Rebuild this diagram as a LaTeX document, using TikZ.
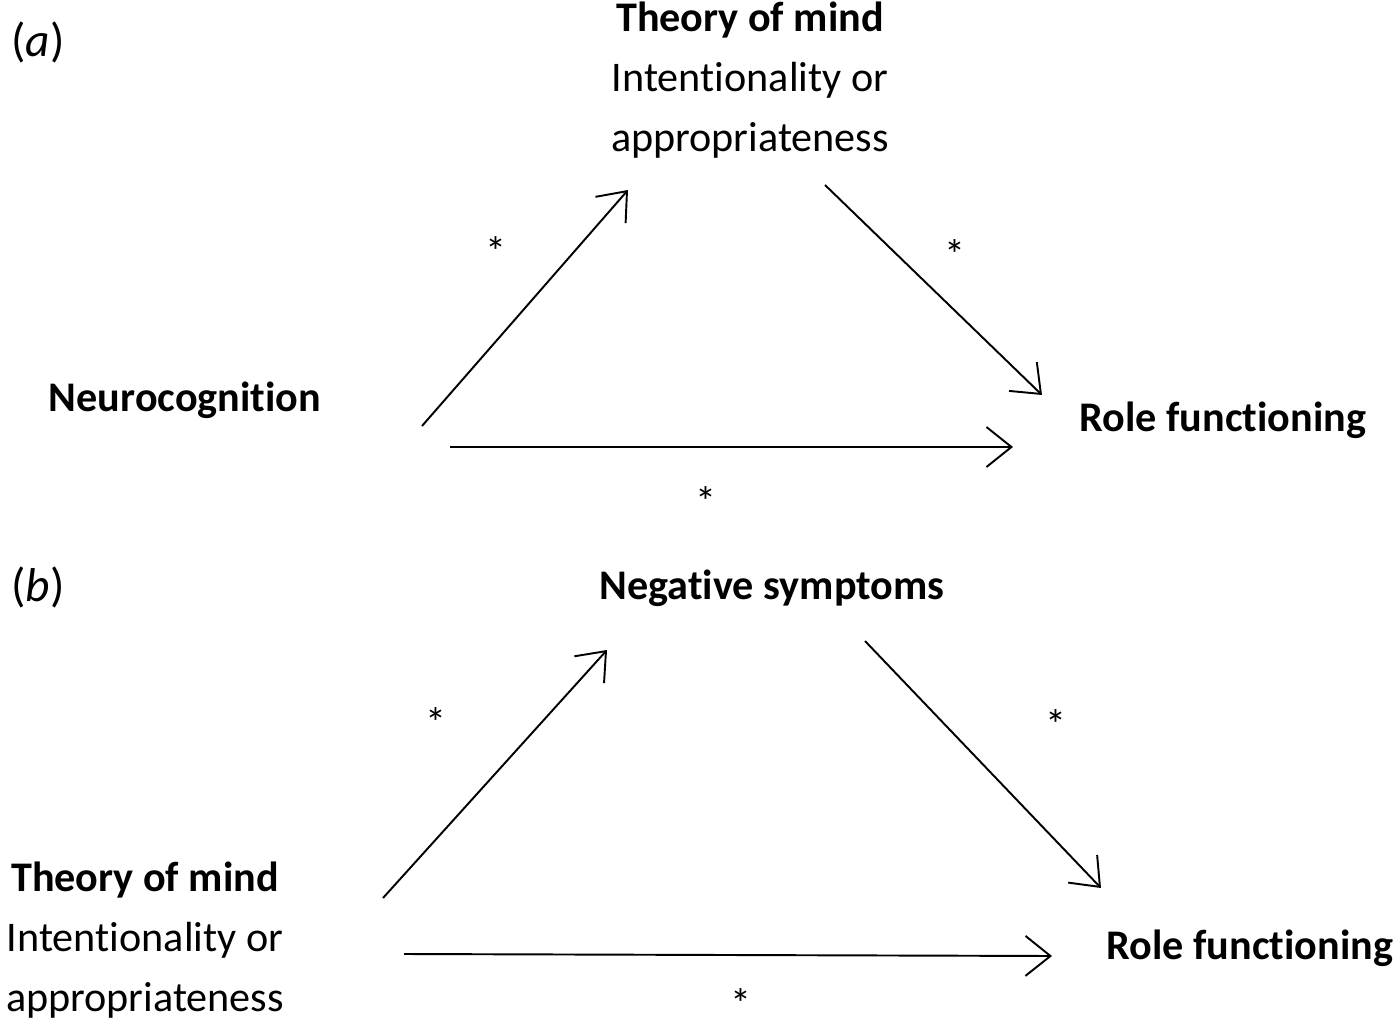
\documentclass[tikz,border=0pt]{standalone}
\usepackage{fontspec}
\setmainfont[Ligatures=NoCommon]{Carlito}
\usetikzlibrary{arrows.meta}
\begin{document}
\begin{tikzpicture}[x=0.02cm, y=-0.02cm,
  lbl/.style={font=\fontsize{24}{34}\selectfont, align=center, inner sep=0pt},
  hd/.style={lbl, font=\fontsize{24}{34}\selectfont\bfseries},
  st/.style={lbl},
  arr/.style={-{Straight Barb[length=5mm,width=8mm]}, line width=1.1pt}]
\useasboundingbox (0,0) rectangle (1400,1027);
% panel a
\node[lbl, font=\fontsize{27}{34}\selectfont] (pa) at (38,42) {(\textit{a})};
\node[hd] (tom) at (750,20) {Theory of mind};
\node[lbl] (tomsub) at (750,110) {Intentionality or\\appropriateness};
\node[hd] (neuro) at (185,400) {Neurocognition};
\node[hd] (rfa) at (1223,420) {Role functioning};
\coordinate (a1) at (422,426); \coordinate (a2) at (628,190);
\coordinate (a3) at (825,185); \coordinate (a4) at (1042,395);
\coordinate (a5) at (450,447); \coordinate (a6) at (1013,447);
\draw[arr] (a1) -- (a2);
\draw[arr] (a3) -- (a4);
\draw[arr] (a5) -- (a6);
\node[st] (sa1) at (496,252) {*};
\node[st] (sa2) at (955,255) {*};
\node[st] (sa3) at (706,502) {*};
% panel b
\node[lbl, font=\fontsize{27}{34}\selectfont] (pb) at (38,587) {(\textit{b})};
\node[hd] (neg) at (772,588) {Negative symptoms};
\node[hd] (tomb) at (145,880) {Theory of mind};
\node[lbl] (tombsub) at (145,970) {Intentionality or\\appropriateness};
\node[hd] (rfb) at (1250,948) {Role functioning};
\coordinate (b1) at (383,898); \coordinate (b2) at (607,650);
\coordinate (b3) at (865,641); \coordinate (b4) at (1101,888);
\coordinate (b5) at (404,954); \coordinate (b6) at (1052,956);
\draw[arr] (b1) -- (b2);
\draw[arr] (b3) -- (b4);
\draw[arr] (b5) -- (b6);
\node[st] (sb1) at (436,723) {*};
\node[st] (sb2) at (1056,725) {*};
\node[st] (sb3) at (741,1004) {*};
\end{tikzpicture}
\end{document}
